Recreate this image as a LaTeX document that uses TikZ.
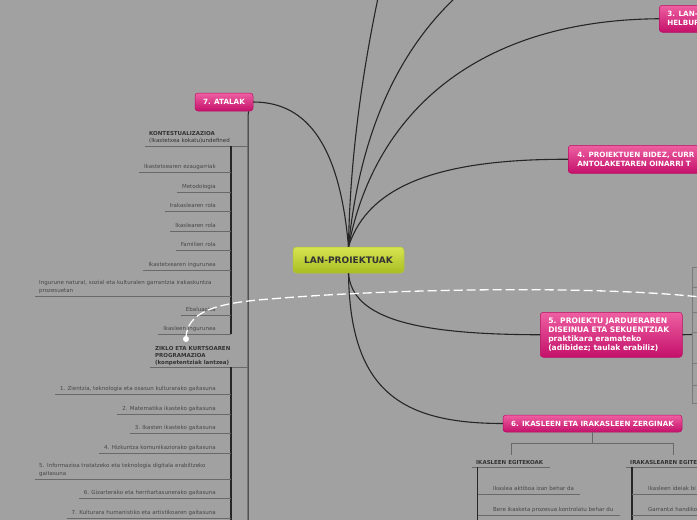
\documentclass[tikz,border=0pt]{standalone}
\usepackage{fontspec}
\setmainfont{DejaVu Sans}
\definecolor{bgc}{HTML}{A1A1A1}
\definecolor{pinkT}{HTML}{EE60A2}
\definecolor{pinkB}{HTML}{C4106A}
\definecolor{pinkD}{HTML}{B80E62}
\definecolor{greenT}{HTML}{D8E452}
\definecolor{greenB}{HTML}{A8BE22}
\definecolor{greenD}{HTML}{B5C535}
\definecolor{leafc}{HTML}{474747}
\definecolor{headc}{HTML}{333333}
\definecolor{ulc}{HTML}{696969}
\definecolor{darkc}{HTML}{262626}
\definecolor{tabc}{HTML}{7A7A7A}
\newcommand\leafR[3]{%
  \node[leaf, anchor=base east] (#1) at (216,#2-3.5) {#3};
  \draw[uline] ([xshift=-5pt]#1.base west) ++(0,3.5) -- (231,#2);}
\newcommand\leafW[3]{%
  \node[leaf, anchor=south west, text width=178pt, align=left] (#1) at (39,#2-2.5) {#3};
  \draw[uline] ([xshift=-4pt]#1.south west) ++(0,2.5) -- (231,#2);}
\begin{document}
\begin{tikzpicture}[x=1pt,y=-1pt,
  pinkbox/.style={rounded corners=3pt, top color=pinkT, bottom color=pinkB, draw=pinkD,
    line width=0.5pt, text=white, font=\bfseries\fontsize{7.2}{9}\selectfont, inner sep=0pt},
  greenbox/.style={rounded corners=3.5pt, top color=greenT, bottom color=greenB, draw=greenD,
    line width=0.5pt, text=headc, font=\bfseries\fontsize{9}{11}\selectfont, inner sep=0pt},
  leaf/.style={font=\fontsize{5.5}{8}\selectfont, text=leafc, inner sep=0pt},
  head/.style={font=\fontsize{5.5}{7.5}\selectfont, text=headc, inner sep=0pt},
  uline/.style={draw=ulc, line width=0.9pt},
  vline/.style={draw=darkc, line width=1.2pt},
  curve/.style={draw=darkc, line width=1.1pt},
  bracket/.style={draw=ulc, line width=1pt},
  tabline/.style={draw=tabc, line width=0.8pt},
  rel/.style={draw=white, line width=1.3pt, dash pattern=on 9pt off 4pt}
]
\useasboundingbox (0,0) rectangle (697,520);
\clip (0,0) rectangle (697,520);
\fill[bgc] (0,0) rectangle (697,520);

% coordinates for free ends
\coordinate (ctop1) at (378,-2);
\coordinate (ctop2) at (455,-2);
\coordinate (tabin) at (692,334.5);
\coordinate (dstart) at (186,339);
\coordinate (dend) at (700,297);

% main nodes
\node[greenbox, minimum width=111pt, minimum height=26pt] (root) at (348.5,260) {LAN-PROIEKTUAK};
\node[pinkbox, minimum width=58pt, minimum height=18pt] (n7) at (224,102) {7. ATALAK};
\node[pinkbox, anchor=north west, text width=60pt, inner xsep=8pt, minimum height=27pt, align=left] (n3) at (659,5) {3. LAN-\\HELBUR};
\node[pinkbox, anchor=north west, text width=200pt, inner xsep=9pt, minimum height=28pt, align=left, font=\bfseries\fontsize{7.2}{8.5}\selectfont] (n4) at (568,145) {4. PROIEKTUEN BIDEZ, CURR\\ANTOLAKETAREN OINARRI T};
\node[pinkbox, anchor=north west, text width=126pt, inner xsep=8pt, minimum height=45pt, align=left, font=\bfseries\fontsize{7.6}{9}\selectfont] (n5) at (540,312) {5. PROIEKTU JARDUERAREN\\DISEINUA ETA SEKUENTZIAK\\praktikara eramateko\\(adibidez; taulak erabiliz)};
\node[pinkbox, minimum width=179pt, minimum height=17pt, font=\bfseries\fontsize{7.1}{9}\selectfont] (n6) at (592.5,423.5) {6. IKASLEEN ETA IRAKASLEEN ZERGINAK};

% curves from root
\draw[curve] (root.north) .. controls (350,150) and (365,60) .. (ctop1);
\draw[curve] (root.north) .. controls (360,130) and (400,50) .. (ctop2);
\draw[curve] (root.north) .. controls (375,110) and (480,20) .. (n3.west);
\draw[curve] (root.north) .. controls (368,185) and (440,159) .. (n4.west);
\draw[curve] (root.north) .. controls (340,150) and (310,102) .. (n7.east);
\draw[curve] (root.south) .. controls (352,320) and (420,334.5) .. (n5.west);
\draw[curve] (root.south) .. controls (350,390) and (400,423.5) .. (n6.west);

% right table edge
\draw[curve] (n5.east) -- (tabin);
\foreach \ya/\yb in {267/287,287/312,312/332,332/363,363/385,385/403}
  \draw[tabline] (692,\ya) rectangle (730,\yb);

% 7. ATALAK branch
\draw[vline, line width=1pt] ([xshift=-5pt]n7.south east) -- (248,520);
\node[head, anchor=south west, align=left] (kh) at (149,143.5) {{\bfseries KONTESTUALIZAZIOA}\\(Ikastetxea kokatu)undefined};
\draw[uline] (145,146) -- (248,146);
\draw[vline] (231,146) -- (231,334);
\leafR{k1}{172}{Ikastetxearen ezaugarriak}
\leafR{k2}{192}{Metodologia}
\leafR{k3}{211}{Irakaslearen rola}
\leafR{k4}{231}{Ikaslearen rola}
\leafR{k5}{250}{Familien rola}
\leafR{k6}{270}{Ikastetxearen ingurunea}
\leafW{k7}{296}{Ingurune natural, sozial eta kulturalen garrantzia irakaskuntza prozesuetan}
\leafR{k8}{315}{Ebaluazioa}
\leafR{k9}{334}{Ikasleen ingurunea}

\node[head, anchor=south west, align=left, font=\bfseries\fontsize{5.5}{7.3}\selectfont] (zh) at (155,366) {ZIKLO ETA KURTSOAREN\\PROGRAMAZIOA\\(konpetentziak lantzea)};
\draw[uline] (150,367) -- (248,367);
\draw[vline] (231,367) -- (231,520);
\leafR{z1}{394}{1. Zientzia, teknologia eta osasun kulturarako gaitasuna}
\leafR{z2}{414}{2. Matematika ikasteko gaitasuna}
\leafR{z3}{433}{3. Ikasten ikasteko gaitasuna}
\leafR{z4}{453}{4. Hizkuntza komunikaziorako gaitasuna}
\leafW{z5}{479}{5. Informazioa tratatzeko eta teknologia digitala erabiltzeko gaitasuna}
\leafR{z6}{498}{6. Gizarterako eta herritartasunerako gaitasuna}
\leafR{z7}{518}{7. Kulturara humanistiko eta artistikoaren gaitasuna}

% 6. branch
\draw[bracket] (n6.south) -- (592.5,443);
\draw[bracket] (511,455) -- (511,443) -- (673,443) -- (673,455);
\node[head, anchor=base west, font=\bfseries\fontsize{5.5}{7.5}\selectfont] (ih) at (476,464) {IKASLEEN EGITEKOAK};
\draw[uline] (472,467) -- (550,467);
\draw[vline] (477.5,467) -- (477.5,520);
\node[leaf, anchor=base west] (i1) at (493,490.5) {Ikaslea aktiboa izan behar da};
\draw[uline] (478,494) -- (580,494);
\node[leaf, anchor=base west] (i2) at (493,511.5) {Bere ikasketa prozesua kontrolatu behar du};
\draw[uline] (478,515) -- (620,515);

\node[head, anchor=base west, font=\bfseries\fontsize{5.5}{7.5}\selectfont] (rh) at (630,464) {IRAKASLEAREN EGITEKOAK};
\draw[uline] (626,467) -- (700,467);
\draw[vline] (632,467) -- (632,520);
\node[leaf, anchor=base west] (r1) at (648,490.5) {Ikasleen ideiak bi};
\draw[uline] (632,494) -- (700,494);
\node[leaf, anchor=base west] (r2) at (648,511.5) {Garrantzi handiko};
\draw[uline] (632,515) -- (700,515);

% relationship (dashed)
\draw[rel] (dstart) .. controls (186,312) and (215,303) .. (270,299)
  .. controls (400,288) and (600,286) .. (dend);
\fill[white] (dstart) circle (3);
\end{tikzpicture}
\end{document}
